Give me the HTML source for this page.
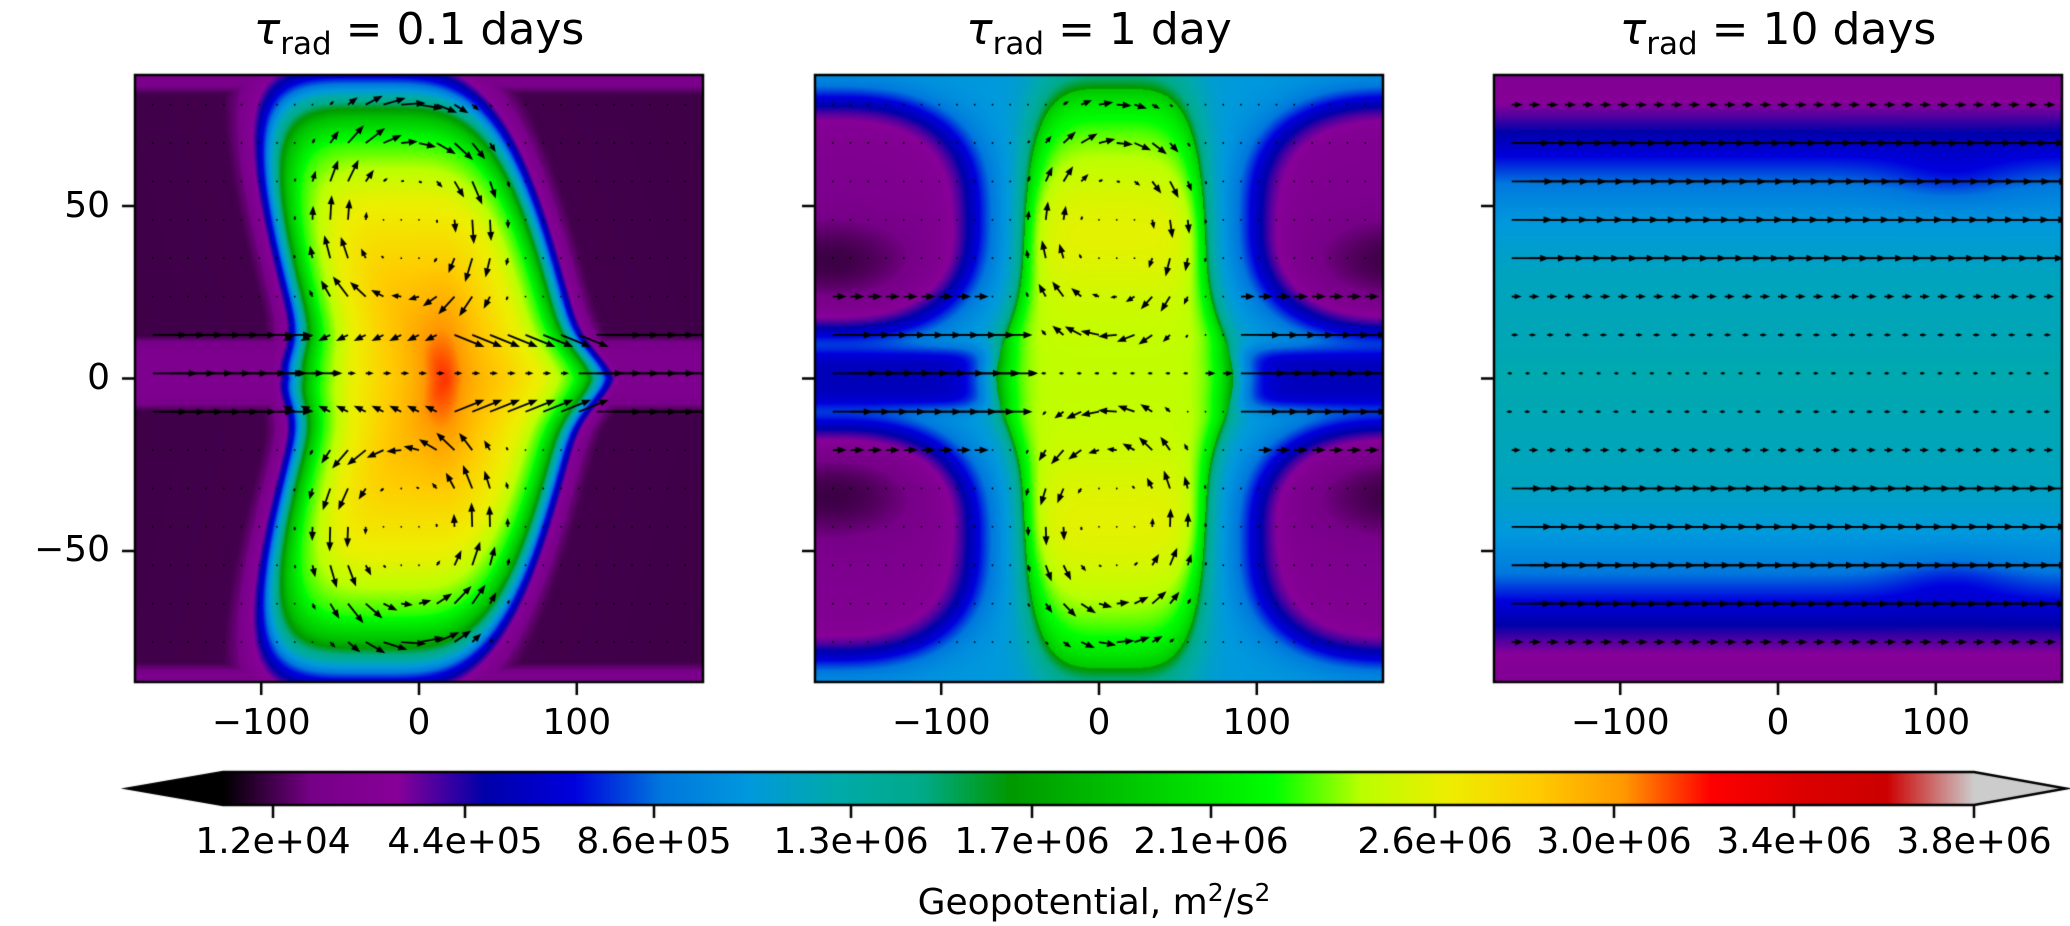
<!DOCTYPE html>
<html><head><meta charset="utf-8">
<style>
html,body{margin:0;padding:0;background:#fff;}
#wrap{position:relative;width:2070px;height:926px;overflow:hidden;font-family:"DejaVu Sans","Liberation Sans",sans-serif;color:#000;}
canvas{position:absolute;left:0;top:0;}
.t{position:absolute;white-space:nowrap;line-height:1;}
.tk{font-size:36px;}
.ttl{font-size:44px;}
.ttl i{font-style:italic;}
.ttl sub{font-size:31px;vertical-align:-10px;}
</style></head><body>
<div id="wrap">
<canvas id="c" width="2070" height="926"></canvas>
<div class="t ttl" style="left:419px;top:8px;transform:translateX(-50%)"><i>τ</i><sub>rad</sub> = 0.1 days</div>
<div class="t ttl" style="left:1099px;top:8px;transform:translateX(-50%)"><i>τ</i><sub>rad</sub> = 1 day</div>
<div class="t ttl" style="left:1778px;top:8px;transform:translateX(-50%)"><i>τ</i><sub>rad</sub> = 10 days</div>
<div class="t tk" style="right:1960px;top:188px">50</div>
<div class="t tk" style="right:1960px;top:360px">0</div>
<div class="t tk" style="right:1960px;top:532px">−50</div>
<div id="xlab"></div>
<div class="t tk" style="left:273px;top:824px;transform:translateX(-50%)">1.2e+04</div>
<div class="t tk" style="left:465px;top:824px;transform:translateX(-50%)">4.4e+05</div>
<div class="t tk" style="left:654px;top:824px;transform:translateX(-50%)">8.6e+05</div>
<div class="t tk" style="left:851px;top:824px;transform:translateX(-50%)">1.3e+06</div>
<div class="t tk" style="left:1032px;top:824px;transform:translateX(-50%)">1.7e+06</div>
<div class="t tk" style="left:1211px;top:824px;transform:translateX(-50%)">2.1e+06</div>
<div class="t tk" style="left:1435px;top:824px;transform:translateX(-50%)">2.6e+06</div>
<div class="t tk" style="left:1614px;top:824px;transform:translateX(-50%)">3.0e+06</div>
<div class="t tk" style="left:1794px;top:824px;transform:translateX(-50%)">3.4e+06</div>
<div class="t tk" style="left:1974px;top:824px;transform:translateX(-50%)">3.8e+06</div>
<div class="t" style="left:1094px;top:880px;transform:translateX(-50%);font-size:36px">Geopotential, m<sup style="font-size:25px">2</sup>/s<sup style="font-size:25px">2</sup></div>
</div>
<script>
var X0=[135,815,1494],Y0=75,W=568,H=607;
function sq(x){return x*x;}
function q4(x){return x*x*x*x;}
function q6(x){return x*x*x*x*x*x;}
function pa(x,e){return Math.pow(Math.abs(x),e);}
var xlab=document.getElementById('xlab');
X0.forEach(function(x0){[-100,0,100].forEach(function(lon){var d=document.createElement('div');d.className='t tk';d.style.left=(x0+(lon+180)/360*W)+'px';d.style.top='705px';d.style.transform='translateX(-50%)';d.textContent=(lon<0?'\u2212':'')+Math.abs(lon);xlab.appendChild(d);});});
var R=[0,.4667,.5333,0,0,0,0,0,0,0,0,0,0,.7333,.9333,1,1,1,.8667,.8,.8];
var G=[0,0,0,0,0,.4667,.6,.6667,.6667,.6,.7333,.8667,1,1,.9333,.8,.6,0,0,0,.8];
var B=[0,.5333,.6,.6667,.8667,.8667,.8667,.6667,.5333,0,0,0,0,0,0,0,0,0,0,0,.8];
function cm(t){t=Math.max(0,Math.min(1,t));var f=t*20,i=Math.min(19,Math.floor(f)),a=f-i;
return [255*(R[i]+(R[i+1]-R[i])*a),255*(G[i]+(G[i+1]-G[i])*a),255*(B[i]+(B[i+1]-B[i])*a)];}
function pl(x,P){if(x<=P[0][0])return P[0][1];for(var i=1;i<P.length;i++){if(x<=P[i][0]){var a=(x-P[i-1][0])/(P[i][0]-P[i-1][0]);return P[i-1][1]+(P[i][1]-P[i-1][1])*a;}}return P[P.length-1][1];}
var P1=[[0,.80],[.35,.75],[.6,.69],[.78,.61],[.86,.51],[.92,.38],[.97,.25],[1.01,.16],[1.05,.09],[1.09,.07],[1.13,.045],[1.2,.028],[3,.025]];
function r1(lon,lat){var a=Math.abs(lat);var c=18-0.58*a;var hw=88+14*Math.exp(-sq(lat/10));var dx=(lon-c)/hw,dy=lat/88;return Math.pow(q4(dx)+q4(dy),.25);}
function f1(lon,lat){var a=Math.abs(lat);var r=r1(lon,lat);var t=pl(r,P1);
t+=0.035*Math.exp(-sq((lon-14)/14)-sq(lat/24));
if(r>1.04){t=Math.max(t,0.068*Math.exp(-q6((lat-1.5)/11)));t=Math.max(t,0.068*Math.exp(-sq((88-a)/6)));}
return t;}
function rd2(lon,lat){var hw=58+17*Math.exp(-sq(lat/18));var dx=(lon-10)/hw,dy=lat/84;return Math.pow(q4(dx)+q4(dy),.25);}
function f2(lon,lat){var a=Math.abs(lat);var rd=rd2(lon,lat);var t;
if(rd<1)t=0.655+0.035*Math.exp(-sq((a-42)/20))-0.14*Math.pow(rd,8);else t=0.30+0.16*Math.exp(-(rd-1)/0.10);
var dl=Math.abs(((lon+170+540)%360)-180);
var rn=Math.pow(pa(dl/92,2.6)+pa((a-47)/34,2.6),1/2.6);
var L=1/(1+Math.exp((rn-1)/0.09));
var inner=0.075-0.05*Math.exp(-sq(dl/65)-sq((a-34)/15));
t=t-(t-inner)*L;
var D=1/(1+Math.exp((rd-1.15)/0.1));
var eq=Math.exp(-q4(lat/9))*(1-D);t=t-(t-0.165)*eq;
return t;}
function f3(lon,lat){var a=Math.abs(lat);var t=pl(a,[[0,.345],[30,.33],[45,.30],[55,.26],[63,.21],[70,.16],[76,.12],[82,.09],[90,.08]]);
t-=0.03*Math.exp(-sq((lon-110)/40)-sq((a-58)/8));return t;}
var cv=document.getElementById('c'),ctx=cv.getContext('2d');
ctx.fillStyle='#fff';ctx.fillRect(0,0,2070,926);
var FS=[f1,f2,f3];
for(var p=0;p<3;p++){var img=ctx.createImageData(W,H);var dd=img.data;
for(var y=0;y<H;y++){var lat=88-176*(y+.5)/H;for(var x=0;x<W;x++){var lon=-180+360*(x+.5)/W;var c=cm(FS[p](lon,lat));var k=(y*W+x)*4;dd[k]=c[0];dd[k+1]=c[1];dd[k+2]=c[2];dd[k+3]=255;}}
ctx.putImageData(img,X0[p],Y0);}
function arrow(x,y,u,v){var L=Math.hypot(u,v);ctx.fillStyle='#000';ctx.strokeStyle='#000';
if(L<2.5){ctx.beginPath();ctx.arc(x,y,0.9,0,7);ctx.fill();return;}
var ux=u/L,uy=v/L;var hl=Math.min(9,L*0.7),hw=Math.min(3.5,hl*0.4);
var ex=x+ux*L,ey=y+uy*L;var bx=ex-ux*hl,by=ey-uy*hl;
ctx.lineWidth=1.8;ctx.beginPath();ctx.moveTo(x,y);ctx.lineTo(bx+ux*2,by+uy*2);ctx.stroke();
ctx.beginPath();ctx.moveTo(ex,ey);ctx.lineTo(bx-uy*hw,by+ux*hw);ctx.lineTo(bx+uy*hw,by-ux*hw);ctx.closePath();ctx.fill();}
function gyre(lon,lat,cx,cy,sx,sy,amp,north){var dx=(lon-cx)/sx,dy=(lat-cy)/sy;var rho=Math.hypot(dx,dy);
var s=amp*rho*Math.exp(-sq((rho-0.75)/0.35))/(rho+1e-6);
if(north)return [dy*s,-dx*s];return [-dy*s,dx*s];}
function vel(p,lon,lat){var u=0,v=0;var a=Math.abs(lat),g;
if(p===0){var r=r1(lon,lat);
g=lat>=0?gyre(lon,lat,-8,44,55,40,32,true):gyre(lon,lat,-8,-44,55,40,32,false);
u+=g[0];v+=g[1];
var jr=(Math.abs(lat-12.8)<2||Math.abs(lat+9.3)<2);
if(jr){if(r>1.05){u=lon<0?35:45;v=0;}else{u=lon<20?-12:30;v=lon<20?(lat>0?-6:6):(lat>0?-12:12);}}
if(Math.abs(lat-1.5)<2){u=(lon<-90||lon>90)?45:(lon<-60?30:8);v=0;}
if(r>1.15&&Math.abs(lat-1.5)>=2&&!jr){u*=0.1;v*=0.1;}
}else if(p===1){var rd=rd2(lon,lat);
g=lat>=0?gyre(lon,lat,8,42,48,38,24,true):gyre(lon,lat,8,-42,48,38,24,false);u+=g[0];v+=g[1];
var night=Math.abs(lon-10)>75;
if(Math.abs(lat-12.8)<2||Math.abs(lat+9.3)<2){if(night){u=40;v=0;}}
if(Math.abs(lat-1.5)<2){u=night?45:(Math.abs(lon-10)>50?10:-5);v=0;}
if(Math.abs(lat-23.9)<2||Math.abs(lat+20.4)<2){if(night&&rd>1.3){u=14;v=0;}}
if(rd>1.5&&night&&a>26){u*=0.15;v*=0.15;}
}else{u=pl(a,[[0,5],[14,7],[24,10],[30,26],[36,40],[60,42],[70,38],[76,12],[90,8]]);
if(a<12&&lon<0)u=-u*0.9;v=0;}
return [u,v];}
for(var p2=0;p2<3;p2++){for(var j=-7;j<=7;j++){var la=1.5+11.13*j;for(var i=0;i<32;i++){var lo=-168.75+11.25*i;
var px=X0[p2]+(lo+180)/360*W,py=Y0+(88-la)/176*H;var vv=vel(p2,lo,la);arrow(px,py,vv[0],-vv[1]);}}}
ctx.fillStyle='#fff';ctx.fillRect(0,0,2070,Y0-1);ctx.fillRect(0,Y0+H+1,2070,926);
ctx.fillRect(0,0,134,700);ctx.fillRect(704,0,110,700);ctx.fillRect(1384,0,109,700);ctx.fillRect(2063,0,10,700);
ctx.strokeStyle='#000';ctx.lineWidth=2.5;
X0.forEach(function(x0){ctx.strokeRect(x0,Y0,W,H);
ctx.beginPath();[50,0,-50].forEach(function(lat){var y=Y0+(88-lat)/176*H;ctx.moveTo(x0-13,y);ctx.lineTo(x0,y);});
[-100,0,100].forEach(function(lon){var x=x0+(lon+180)/360*W;ctx.moveTo(x,Y0+H);ctx.lineTo(x,Y0+H+13);});ctx.stroke();});
var cb0=223,cb1=1974,cy0=772,cy1=805;
for(var xx=cb0;xx<cb1;xx++){var cc=cm((xx-cb0+.5)/(cb1-cb0));ctx.fillStyle='rgb('+(cc[0]|0)+','+(cc[1]|0)+','+(cc[2]|0)+')';ctx.fillRect(xx,cy0,1,cy1-cy0);}
ctx.fillStyle='#000';ctx.beginPath();ctx.moveTo(cb0,cy0);ctx.lineTo(128,(cy0+cy1)/2);ctx.lineTo(cb0,cy1);ctx.closePath();ctx.fill();
ctx.fillStyle='#ccc';ctx.beginPath();ctx.moveTo(cb1,cy0);ctx.lineTo(2066,(cy0+cy1)/2);ctx.lineTo(cb1,cy1);ctx.closePath();ctx.fill();
ctx.lineWidth=2.5;ctx.beginPath();ctx.moveTo(cb0,cy0);ctx.lineTo(cb1,cy0);ctx.lineTo(2066,(cy0+cy1)/2);ctx.lineTo(cb1,cy1);ctx.lineTo(cb0,cy1);ctx.lineTo(128,(cy0+cy1)/2);ctx.closePath();ctx.stroke();
ctx.beginPath();[273,465,654,851,1032,1211,1435,1614,1794,1974].forEach(function(x){ctx.moveTo(x,cy1);ctx.lineTo(x,cy1+13);});ctx.stroke();
</script>
</body></html>
